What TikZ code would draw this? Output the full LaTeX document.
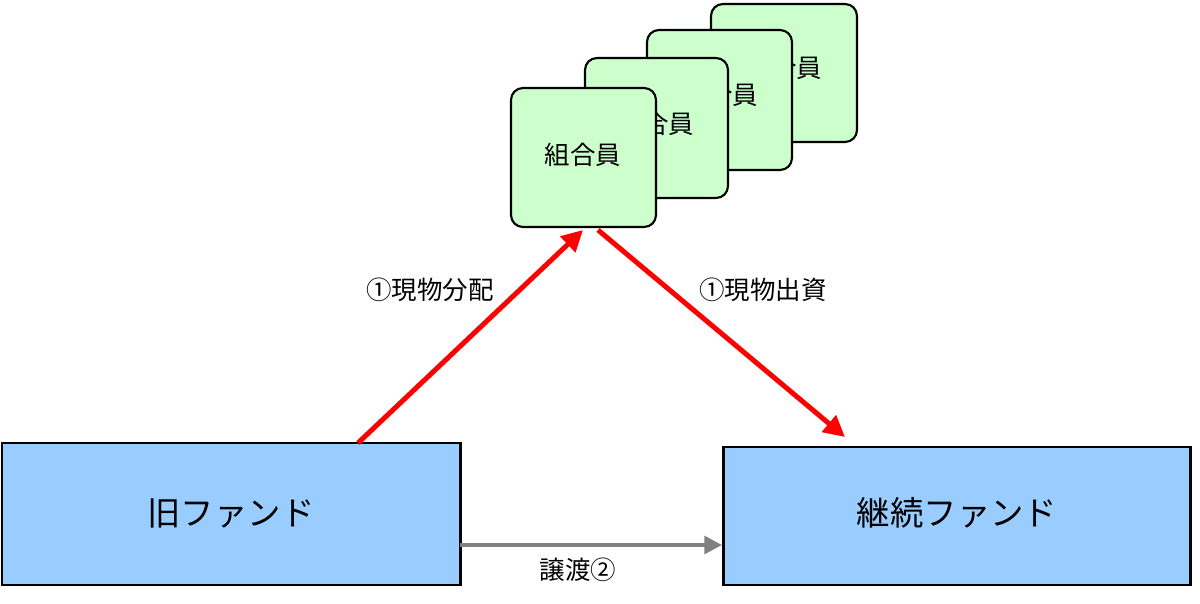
\documentclass[tikz,border=0pt]{standalone}
\usepackage{fontspec}
\setmainfont{Noto Sans CJK JP}
\usetikzlibrary{arrows.meta}
\definecolor{boxblue}{HTML}{99CCFF}
\definecolor{cardgreen}{HTML}{CCFFCC}
\begin{document}
\begin{tikzpicture}[x=0.02cm,y=-0.02cm,
  fund/.style={draw=black,line width=3*0.567pt,fill=boxblue},
  card/.style={draw=black,line width=1.2pt,fill=cardgreen,rounded corners=12*0.567pt},
  red/.style={draw=red,line width=5*0.567pt,-{Triangle[length=12pt,width=12pt]}},
  gray/.style={draw=gray,line width=4*0.567pt,-{Triangle[length=10pt,width=10pt]}},
  lab/.style={font=\fontsize{14.5}{17}\selectfont},
  big/.style={font=\fontsize{19}{23}\selectfont}]
\useasboundingbox (0,0) rectangle (1200,604);
\path[card] (711,4) rectangle (857,142); \node[lab] (c4) at (784,68) {組合員};
\path[card] (647,30) rectangle (792,170); \node[lab] (c3) at (720,95) {組合員};
\path[card] (585,58) rectangle (728,198); \node[lab] (c2) at (656,124) {組合員};
\path[card] (511,88) rectangle (656,227); \node[lab] (c1) at (583,155) {組合員};
\coordinate (ctop1) at (583,230);
\coordinate (ctop2) at (598,230);
\path[fund] (2,443) rectangle (460,585); \node[big] (old) at (231,513) {旧ファンド};
\path[fund] (723,447) rectangle (1190,585); \node[big] (new) at (957,513) {継続ファンド};
\coordinate (oldtop) at (358,443);
\coordinate (newtop) at (845,437);
\coordinate (oldr) at (460,545);
\coordinate (newl) at (722,545);
\draw[red] (oldtop) -- (ctop1);
\draw[red] (ctop2) -- (newtop);
\draw[gray] (oldr) -- (newl);
\node[lab] at (430,290) {①現物分配};
\node[lab] at (763,290) {①現物出資};
\node[lab] at (578,570) {譲渡②};
\end{tikzpicture}
\end{document}
